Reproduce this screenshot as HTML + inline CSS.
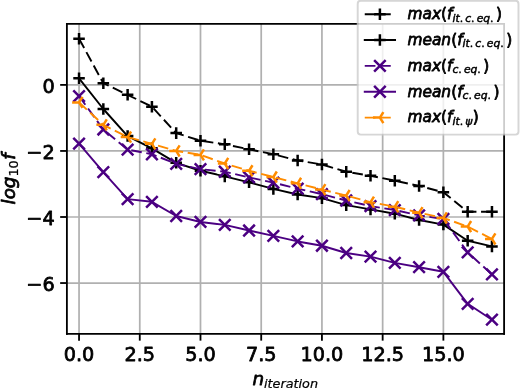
<!DOCTYPE html>
<html><head><meta charset="utf-8"><style>html,body{margin:0;padding:0;background:#fff;overflow:hidden}svg{display:block;}</style></head><body>
<svg width="520" height="388" viewBox="0 0 270.12987 201.558442" version="1.1"><filter id="soft" x="0" y="0" width="1" height="1"><feGaussianBlur stdDeviation="0.280"/></filter><g filter="url(#soft)">
 
 <defs>
  <style type="text/css">*{stroke-linejoin: round; stroke-linecap: butt} text{stroke:#000;stroke-width:0.400;stroke-linejoin:round} tspan[style*="font-size: 6.65px"]{stroke-width:0.120} tspan[style*="font-size: 5.6px"]{stroke-width:0.25}</style>
 </defs>
 <g id="figure_1">
  <g id="patch_1">
   <path d="M 0 201.558442 
L 270.12987 201.558442 
L 270.12987 0 
L 0 0 
z
" style="fill: #ffffff"/>
  </g>
  <g id="axes_1">
   <g id="patch_2">
    <path d="M 34.753247 173.454545 
L 261.87013 173.454545 
L 261.87013 12.363636 
L 34.753247 12.363636 
z
" style="fill: #ffffff"/>
   </g>
   <g id="matplotlib.axis_1">
    <g id="xtick_1">
     <g id="line2d_1">
      <path d="M 41.062049 173.454545 
L 41.062049 12.363636 
" clip-path="url(#pce81acad03)" style="fill: none; stroke: #b0b0b0; stroke-width: 0.9; stroke-linecap: square"/>
     </g>
     <g id="line2d_2">
      <defs>
       <path id="m1c7f53c458" d="M 0 0 
L 0 3.5 
" style="stroke: #000000; stroke-width: 0.95"/>
      </defs>
      <g>
       <use href="#m1c7f53c458" x="41.062049" y="173.454545" style="stroke: #000000; stroke-width: 0.95"/>
      </g>
     </g>
     <g id="text_1">
      <text style="font-size: 10px; font-family: 'DejaVu Sans', 'Liberation Sans', sans-serif; text-anchor: middle" x="41.062049" y="187.502983" transform="rotate(-0 41.062049 187.502983)">0.0</text>
     </g>
    </g>
    <g id="xtick_2">
     <g id="line2d_3">
      <path d="M 72.606061 173.454545 
L 72.606061 12.363636 
" clip-path="url(#pce81acad03)" style="fill: none; stroke: #b0b0b0; stroke-width: 0.9; stroke-linecap: square"/>
     </g>
     <g id="line2d_4">
      <g>
       <use href="#m1c7f53c458" x="72.606061" y="173.454545" style="stroke: #000000; stroke-width: 0.95"/>
      </g>
     </g>
     <g id="text_2">
      <text style="font-size: 10px; font-family: 'DejaVu Sans', 'Liberation Sans', sans-serif; text-anchor: middle" x="72.606061" y="187.502983" transform="rotate(-0 72.606061 187.502983)">2.5</text>
     </g>
    </g>
    <g id="xtick_3">
     <g id="line2d_5">
      <path d="M 104.150072 173.454545 
L 104.150072 12.363636 
" clip-path="url(#pce81acad03)" style="fill: none; stroke: #b0b0b0; stroke-width: 0.9; stroke-linecap: square"/>
     </g>
     <g id="line2d_6">
      <g>
       <use href="#m1c7f53c458" x="104.150072" y="173.454545" style="stroke: #000000; stroke-width: 0.95"/>
      </g>
     </g>
     <g id="text_3">
      <text style="font-size: 10px; font-family: 'DejaVu Sans', 'Liberation Sans', sans-serif; text-anchor: middle" x="104.150072" y="187.502983" transform="rotate(-0 104.150072 187.502983)">5.0</text>
     </g>
    </g>
    <g id="xtick_4">
     <g id="line2d_7">
      <path d="M 135.694084 173.454545 
L 135.694084 12.363636 
" clip-path="url(#pce81acad03)" style="fill: none; stroke: #b0b0b0; stroke-width: 0.9; stroke-linecap: square"/>
     </g>
     <g id="line2d_8">
      <g>
       <use href="#m1c7f53c458" x="135.694084" y="173.454545" style="stroke: #000000; stroke-width: 0.95"/>
      </g>
     </g>
     <g id="text_4">
      <text style="font-size: 10px; font-family: 'DejaVu Sans', 'Liberation Sans', sans-serif; text-anchor: middle" x="135.694084" y="187.502983" transform="rotate(-0 135.694084 187.502983)">7.5</text>
     </g>
    </g>
    <g id="xtick_5">
     <g id="line2d_9">
      <path d="M 167.238095 173.454545 
L 167.238095 12.363636 
" clip-path="url(#pce81acad03)" style="fill: none; stroke: #b0b0b0; stroke-width: 0.9; stroke-linecap: square"/>
     </g>
     <g id="line2d_10">
      <g>
       <use href="#m1c7f53c458" x="167.238095" y="173.454545" style="stroke: #000000; stroke-width: 0.95"/>
      </g>
     </g>
     <g id="text_5">
      <text style="font-size: 10px; font-family: 'DejaVu Sans', 'Liberation Sans', sans-serif; text-anchor: middle" x="167.238095" y="187.502983" transform="rotate(-0 167.238095 187.502983)">10.0</text>
     </g>
    </g>
    <g id="xtick_6">
     <g id="line2d_11">
      <path d="M 198.782107 173.454545 
L 198.782107 12.363636 
" clip-path="url(#pce81acad03)" style="fill: none; stroke: #b0b0b0; stroke-width: 0.9; stroke-linecap: square"/>
     </g>
     <g id="line2d_12">
      <g>
       <use href="#m1c7f53c458" x="198.782107" y="173.454545" style="stroke: #000000; stroke-width: 0.95"/>
      </g>
     </g>
     <g id="text_6">
      <text style="font-size: 10px; font-family: 'DejaVu Sans', 'Liberation Sans', sans-serif; text-anchor: middle" x="198.782107" y="187.502983" transform="rotate(-0 198.782107 187.502983)">12.5</text>
     </g>
    </g>
    <g id="xtick_7">
     <g id="line2d_13">
      <path d="M 230.326118 173.454545 
L 230.326118 12.363636 
" clip-path="url(#pce81acad03)" style="fill: none; stroke: #b0b0b0; stroke-width: 0.9; stroke-linecap: square"/>
     </g>
     <g id="line2d_14">
      <g>
       <use href="#m1c7f53c458" x="230.326118" y="173.454545" style="stroke: #000000; stroke-width: 0.95"/>
      </g>
     </g>
     <g id="text_7">
      <text style="font-size: 10px; font-family: 'DejaVu Sans', 'Liberation Sans', sans-serif; text-anchor: middle" x="230.326118" y="187.502983" transform="rotate(-0 230.326118 187.502983)">15.0</text>
     </g>
    </g>
    <g id="text_8">
     <g transform="translate(131.116688 200.401186)">
      <text>
       <tspan x="0" y="-0.40625" style="font-style: oblique; font-size: 9.5px; font-family: 'DejaVu Sans', 'Liberation Sans', sans-serif">n</tspan>
       <tspan x="6.020996" y="1.234375" style="font-style: oblique; font-size: 6.65px; font-family: 'DejaVu Sans', 'Liberation Sans', sans-serif">i</tspan>
       <tspan x="7.868579" y="1.234375" style="font-style: oblique; font-size: 6.65px; font-family: 'DejaVu Sans', 'Liberation Sans', sans-serif">t</tspan>
       <tspan x="10.475977" y="1.234375" style="font-style: oblique; font-size: 6.65px; font-family: 'DejaVu Sans', 'Liberation Sans', sans-serif">e</tspan>
       <tspan x="14.567285" y="1.234375" style="font-style: oblique; font-size: 6.65px; font-family: 'DejaVu Sans', 'Liberation Sans', sans-serif">r</tspan>
       <tspan x="17.301318" y="1.234375" style="font-style: oblique; font-size: 6.65px; font-family: 'DejaVu Sans', 'Liberation Sans', sans-serif">a</tspan>
       <tspan x="21.376392" y="1.234375" style="font-style: oblique; font-size: 6.65px; font-family: 'DejaVu Sans', 'Liberation Sans', sans-serif">t</tspan>
       <tspan x="23.983789" y="1.234375" style="font-style: oblique; font-size: 6.65px; font-family: 'DejaVu Sans', 'Liberation Sans', sans-serif">i</tspan>
       <tspan x="25.831372" y="1.234375" style="font-style: oblique; font-size: 6.65px; font-family: 'DejaVu Sans', 'Liberation Sans', sans-serif">o</tspan>
       <tspan x="29.899951" y="1.234375" style="font-style: oblique; font-size: 6.65px; font-family: 'DejaVu Sans', 'Liberation Sans', sans-serif">n</tspan>
      </text>
     </g>
    </g>
   </g>
   <g id="matplotlib.axis_2">
    <g id="ytick_1">
     <g id="line2d_15">
      <path d="M 34.753247 147.03495 
L 261.87013 147.03495 
" clip-path="url(#pce81acad03)" style="fill: none; stroke: #b0b0b0; stroke-width: 0.9; stroke-linecap: square"/>
     </g>
     <g id="line2d_16">
      <defs>
       <path id="m90748ac164" d="M 0 0 
L -3.5 0 
" style="stroke: #000000; stroke-width: 0.95"/>
      </defs>
      <g>
       <use href="#m90748ac164" x="34.753247" y="147.03495" style="stroke: #000000; stroke-width: 0.95"/>
      </g>
     </g>
     <g id="text_9">
      <text style="font-size: 10px; font-family: 'DejaVu Sans', 'Liberation Sans', sans-serif; text-anchor: end" x="28.403247" y="151.094169" transform="rotate(-0 28.403247 151.094169)">−6</text>
     </g>
    </g>
    <g id="ytick_2">
     <g id="line2d_17">
      <path d="M 34.753247 112.723787 
L 261.87013 112.723787 
" clip-path="url(#pce81acad03)" style="fill: none; stroke: #b0b0b0; stroke-width: 0.9; stroke-linecap: square"/>
     </g>
     <g id="line2d_18">
      <g>
       <use href="#m90748ac164" x="34.753247" y="112.723787" style="stroke: #000000; stroke-width: 0.95"/>
      </g>
     </g>
     <g id="text_10">
      <text style="font-size: 10px; font-family: 'DejaVu Sans', 'Liberation Sans', sans-serif; text-anchor: end" x="28.403247" y="116.783006" transform="rotate(-0 28.403247 116.783006)">−4</text>
     </g>
    </g>
    <g id="ytick_3">
     <g id="line2d_19">
      <path d="M 34.753247 78.412625 
L 261.87013 78.412625 
" clip-path="url(#pce81acad03)" style="fill: none; stroke: #b0b0b0; stroke-width: 0.9; stroke-linecap: square"/>
     </g>
     <g id="line2d_20">
      <g>
       <use href="#m90748ac164" x="34.753247" y="78.412625" style="stroke: #000000; stroke-width: 0.95"/>
      </g>
     </g>
     <g id="text_11">
      <text style="font-size: 10px; font-family: 'DejaVu Sans', 'Liberation Sans', sans-serif; text-anchor: end" x="28.403247" y="82.471843" transform="rotate(-0 28.403247 82.471843)">−2</text>
     </g>
    </g>
    <g id="ytick_4">
     <g id="line2d_21">
      <path d="M 34.753247 44.101462 
L 261.87013 44.101462 
" clip-path="url(#pce81acad03)" style="fill: none; stroke: #b0b0b0; stroke-width: 0.9; stroke-linecap: square"/>
     </g>
     <g id="line2d_22">
      <g>
       <use href="#m90748ac164" x="34.753247" y="44.101462" style="stroke: #000000; stroke-width: 0.95"/>
      </g>
     </g>
     <g id="text_12">
      <text style="font-size: 10px; font-family: 'DejaVu Sans', 'Liberation Sans', sans-serif; text-anchor: end" x="28.403247" y="48.160681" transform="rotate(-0 28.403247 48.160681)">0</text>
     </g>
    </g>
    <g id="text_13">
     <g transform="translate(8.366059 106.209091) rotate(-90)">
      <text>
       <tspan x="0" y="-0.40625" style="font-style: oblique; font-size: 9.5px; font-family: 'DejaVu Sans', 'Liberation Sans', sans-serif">l</tspan>
       <tspan x="2.639404" y="-0.40625" style="font-style: oblique; font-size: 9.5px; font-family: 'DejaVu Sans', 'Liberation Sans', sans-serif">o</tspan>
       <tspan x="8.45166" y="-0.40625" style="font-style: oblique; font-size: 9.5px; font-family: 'DejaVu Sans', 'Liberation Sans', sans-serif">g</tspan>
       <tspan x="23.217236" y="-0.40625" style="font-style: oblique; font-size: 9.5px; font-family: 'DejaVu Sans', 'Liberation Sans', sans-serif">f</tspan>
       <tspan x="14.481934" y="1.234375" style="font-size: 6.65px; font-family: 'DejaVu Sans', 'Liberation Sans', sans-serif">1</tspan>
       <tspan x="18.712866" y="1.234375" style="font-size: 6.65px; font-family: 'DejaVu Sans', 'Liberation Sans', sans-serif">0</tspan>
      </text>
     </g>
    </g>
   </g>
   <g id="line2d_23">
    <path d="M 41.062049 20.083648 
L 53.679654 43.243683 
L 66.297258 49.248136 
L 78.914863 55.424146 
L 91.532468 69.148611 
L 104.150072 73.094394 
L 116.767677 74.981508 
L 129.385281 77.554846 
L 142.002886 80.128183 
L 154.620491 83.387743 
L 167.238095 85.446413 
L 179.8557 89.220641 
L 192.473304 91.279311 
L 205.090909 93.852648 
L 217.708514 96.597541 
L 230.326118 99.857101 
L 242.943723 109.978894 
L 255.561328 109.978894 
" clip-path="url(#pce81acad03)" style="fill: none; stroke-dasharray: 5.55,2.4; stroke-dashoffset: 0; stroke: #000000"/>
    <defs>
     <path id="ma10e8e3526" d="M -3 0 
L 3 0 
M 0 3 
L 0 -3 
" style="stroke: #000000; stroke-width: 1.3"/>
    </defs>
    <g clip-path="url(#pce81acad03)">
     <use href="#ma10e8e3526" x="41.062049" y="20.083648" style="stroke: #000000; stroke-width: 1.3"/>
     <use href="#ma10e8e3526" x="53.679654" y="43.243683" style="stroke: #000000; stroke-width: 1.3"/>
     <use href="#ma10e8e3526" x="66.297258" y="49.248136" style="stroke: #000000; stroke-width: 1.3"/>
     <use href="#ma10e8e3526" x="78.914863" y="55.424146" style="stroke: #000000; stroke-width: 1.3"/>
     <use href="#ma10e8e3526" x="91.532468" y="69.148611" style="stroke: #000000; stroke-width: 1.3"/>
     <use href="#ma10e8e3526" x="104.150072" y="73.094394" style="stroke: #000000; stroke-width: 1.3"/>
     <use href="#ma10e8e3526" x="116.767677" y="74.981508" style="stroke: #000000; stroke-width: 1.3"/>
     <use href="#ma10e8e3526" x="129.385281" y="77.554846" style="stroke: #000000; stroke-width: 1.3"/>
     <use href="#ma10e8e3526" x="142.002886" y="80.128183" style="stroke: #000000; stroke-width: 1.3"/>
     <use href="#ma10e8e3526" x="154.620491" y="83.387743" style="stroke: #000000; stroke-width: 1.3"/>
     <use href="#ma10e8e3526" x="167.238095" y="85.446413" style="stroke: #000000; stroke-width: 1.3"/>
     <use href="#ma10e8e3526" x="179.8557" y="89.220641" style="stroke: #000000; stroke-width: 1.3"/>
     <use href="#ma10e8e3526" x="192.473304" y="91.279311" style="stroke: #000000; stroke-width: 1.3"/>
     <use href="#ma10e8e3526" x="205.090909" y="93.852648" style="stroke: #000000; stroke-width: 1.3"/>
     <use href="#ma10e8e3526" x="217.708514" y="96.597541" style="stroke: #000000; stroke-width: 1.3"/>
     <use href="#ma10e8e3526" x="230.326118" y="99.857101" style="stroke: #000000; stroke-width: 1.3"/>
     <use href="#ma10e8e3526" x="242.943723" y="109.978894" style="stroke: #000000; stroke-width: 1.3"/>
     <use href="#ma10e8e3526" x="255.561328" y="109.978894" style="stroke: #000000; stroke-width: 1.3"/>
    </g>
   </g>
   <g id="line2d_24">
    <path d="M 41.062049 40.670346 
L 53.679654 56.625036 
L 66.297258 70.692613 
L 78.914863 77.040178 
L 91.532468 84.588634 
L 104.150072 88.705973 
L 116.767677 91.622422 
L 129.385281 94.710427 
L 142.002886 98.141543 
L 154.620491 101.057992 
L 167.238095 102.945106 
L 179.8557 106.547778 
L 192.473304 108.778004 
L 205.090909 111.008229 
L 217.708514 114.26779 
L 230.326118 116.669571 
L 242.943723 125.075806 
L 255.561328 127.992255 
" clip-path="url(#pce81acad03)" style="fill: none; stroke: #000000; stroke-linecap: square"/>
    <g clip-path="url(#pce81acad03)">
     <use href="#ma10e8e3526" x="41.062049" y="40.670346" style="stroke: #000000; stroke-width: 1.3"/>
     <use href="#ma10e8e3526" x="53.679654" y="56.625036" style="stroke: #000000; stroke-width: 1.3"/>
     <use href="#ma10e8e3526" x="66.297258" y="70.692613" style="stroke: #000000; stroke-width: 1.3"/>
     <use href="#ma10e8e3526" x="78.914863" y="77.040178" style="stroke: #000000; stroke-width: 1.3"/>
     <use href="#ma10e8e3526" x="91.532468" y="84.588634" style="stroke: #000000; stroke-width: 1.3"/>
     <use href="#ma10e8e3526" x="104.150072" y="88.705973" style="stroke: #000000; stroke-width: 1.3"/>
     <use href="#ma10e8e3526" x="116.767677" y="91.622422" style="stroke: #000000; stroke-width: 1.3"/>
     <use href="#ma10e8e3526" x="129.385281" y="94.710427" style="stroke: #000000; stroke-width: 1.3"/>
     <use href="#ma10e8e3526" x="142.002886" y="98.141543" style="stroke: #000000; stroke-width: 1.3"/>
     <use href="#ma10e8e3526" x="154.620491" y="101.057992" style="stroke: #000000; stroke-width: 1.3"/>
     <use href="#ma10e8e3526" x="167.238095" y="102.945106" style="stroke: #000000; stroke-width: 1.3"/>
     <use href="#ma10e8e3526" x="179.8557" y="106.547778" style="stroke: #000000; stroke-width: 1.3"/>
     <use href="#ma10e8e3526" x="192.473304" y="108.778004" style="stroke: #000000; stroke-width: 1.3"/>
     <use href="#ma10e8e3526" x="205.090909" y="111.008229" style="stroke: #000000; stroke-width: 1.3"/>
     <use href="#ma10e8e3526" x="217.708514" y="114.26779" style="stroke: #000000; stroke-width: 1.3"/>
     <use href="#ma10e8e3526" x="230.326118" y="116.669571" style="stroke: #000000; stroke-width: 1.3"/>
     <use href="#ma10e8e3526" x="242.943723" y="125.075806" style="stroke: #000000; stroke-width: 1.3"/>
     <use href="#ma10e8e3526" x="255.561328" y="127.992255" style="stroke: #000000; stroke-width: 1.3"/>
    </g>
   </g>
   <g id="line2d_25">
    <path d="M 41.062049 49.93436 
L 53.679654 67.261497 
L 66.297258 77.726401 
L 78.914863 80.128183 
L 91.532468 85.103301 
L 104.150072 87.848194 
L 116.767677 89.220641 
L 129.385281 92.13709 
L 142.002886 94.881983 
L 154.620491 97.969987 
L 167.238095 100.886436 
L 179.8557 104.145997 
L 192.473304 107.062446 
L 205.090909 109.121115 
L 217.708514 111.866008 
L 230.326118 113.753122 
L 242.943723 131.080259 
L 255.561328 142.574499 
" clip-path="url(#pce81acad03)" style="fill: none; stroke-dasharray: 5.55,2.4; stroke-dashoffset: 0; stroke: #4b0082"/>
    <defs>
     <path id="ma31a011102" d="M -3 3 
L 3 -3 
M -3 -3 
L 3 3 
" style="stroke: #4b0082; stroke-width: 1.3"/>
    </defs>
    <g clip-path="url(#pce81acad03)">
     <use href="#ma31a011102" x="41.062049" y="49.93436" style="fill: #4b0082; stroke: #4b0082; stroke-width: 1.3"/>
     <use href="#ma31a011102" x="53.679654" y="67.261497" style="fill: #4b0082; stroke: #4b0082; stroke-width: 1.3"/>
     <use href="#ma31a011102" x="66.297258" y="77.726401" style="fill: #4b0082; stroke: #4b0082; stroke-width: 1.3"/>
     <use href="#ma31a011102" x="78.914863" y="80.128183" style="fill: #4b0082; stroke: #4b0082; stroke-width: 1.3"/>
     <use href="#ma31a011102" x="91.532468" y="85.103301" style="fill: #4b0082; stroke: #4b0082; stroke-width: 1.3"/>
     <use href="#ma31a011102" x="104.150072" y="87.848194" style="fill: #4b0082; stroke: #4b0082; stroke-width: 1.3"/>
     <use href="#ma31a011102" x="116.767677" y="89.220641" style="fill: #4b0082; stroke: #4b0082; stroke-width: 1.3"/>
     <use href="#ma31a011102" x="129.385281" y="92.13709" style="fill: #4b0082; stroke: #4b0082; stroke-width: 1.3"/>
     <use href="#ma31a011102" x="142.002886" y="94.881983" style="fill: #4b0082; stroke: #4b0082; stroke-width: 1.3"/>
     <use href="#ma31a011102" x="154.620491" y="97.969987" style="fill: #4b0082; stroke: #4b0082; stroke-width: 1.3"/>
     <use href="#ma31a011102" x="167.238095" y="100.886436" style="fill: #4b0082; stroke: #4b0082; stroke-width: 1.3"/>
     <use href="#ma31a011102" x="179.8557" y="104.145997" style="fill: #4b0082; stroke: #4b0082; stroke-width: 1.3"/>
     <use href="#ma31a011102" x="192.473304" y="107.062446" style="fill: #4b0082; stroke: #4b0082; stroke-width: 1.3"/>
     <use href="#ma31a011102" x="205.090909" y="109.121115" style="fill: #4b0082; stroke: #4b0082; stroke-width: 1.3"/>
     <use href="#ma31a011102" x="217.708514" y="111.866008" style="fill: #4b0082; stroke: #4b0082; stroke-width: 1.3"/>
     <use href="#ma31a011102" x="230.326118" y="113.753122" style="fill: #4b0082; stroke: #4b0082; stroke-width: 1.3"/>
     <use href="#ma31a011102" x="242.943723" y="131.080259" style="fill: #4b0082; stroke: #4b0082; stroke-width: 1.3"/>
     <use href="#ma31a011102" x="255.561328" y="142.574499" style="fill: #4b0082; stroke: #4b0082; stroke-width: 1.3"/>
    </g>
   </g>
   <g id="line2d_26">
    <path d="M 41.062049 74.638397 
L 53.679654 89.392197 
L 66.297258 103.459773 
L 78.914863 104.83222 
L 91.532468 112.20912 
L 104.150072 115.297125 
L 116.767677 116.841127 
L 129.385281 119.757576 
L 142.002886 122.502469 
L 154.620491 125.418918 
L 167.238095 127.649143 
L 179.8557 131.423371 
L 192.473304 133.310485 
L 205.090909 136.570046 
L 217.708514 138.800271 
L 230.326118 141.202052 
L 242.943723 157.842966 
L 255.561328 166.077645 
" clip-path="url(#pce81acad03)" style="fill: none; stroke: #4b0082; stroke-linecap: square"/>
    <g clip-path="url(#pce81acad03)">
     <use href="#ma31a011102" x="41.062049" y="74.638397" style="fill: #4b0082; stroke: #4b0082; stroke-width: 1.3"/>
     <use href="#ma31a011102" x="53.679654" y="89.392197" style="fill: #4b0082; stroke: #4b0082; stroke-width: 1.3"/>
     <use href="#ma31a011102" x="66.297258" y="103.459773" style="fill: #4b0082; stroke: #4b0082; stroke-width: 1.3"/>
     <use href="#ma31a011102" x="78.914863" y="104.83222" style="fill: #4b0082; stroke: #4b0082; stroke-width: 1.3"/>
     <use href="#ma31a011102" x="91.532468" y="112.20912" style="fill: #4b0082; stroke: #4b0082; stroke-width: 1.3"/>
     <use href="#ma31a011102" x="104.150072" y="115.297125" style="fill: #4b0082; stroke: #4b0082; stroke-width: 1.3"/>
     <use href="#ma31a011102" x="116.767677" y="116.841127" style="fill: #4b0082; stroke: #4b0082; stroke-width: 1.3"/>
     <use href="#ma31a011102" x="129.385281" y="119.757576" style="fill: #4b0082; stroke: #4b0082; stroke-width: 1.3"/>
     <use href="#ma31a011102" x="142.002886" y="122.502469" style="fill: #4b0082; stroke: #4b0082; stroke-width: 1.3"/>
     <use href="#ma31a011102" x="154.620491" y="125.418918" style="fill: #4b0082; stroke: #4b0082; stroke-width: 1.3"/>
     <use href="#ma31a011102" x="167.238095" y="127.649143" style="fill: #4b0082; stroke: #4b0082; stroke-width: 1.3"/>
     <use href="#ma31a011102" x="179.8557" y="131.423371" style="fill: #4b0082; stroke: #4b0082; stroke-width: 1.3"/>
     <use href="#ma31a011102" x="192.473304" y="133.310485" style="fill: #4b0082; stroke: #4b0082; stroke-width: 1.3"/>
     <use href="#ma31a011102" x="205.090909" y="136.570046" style="fill: #4b0082; stroke: #4b0082; stroke-width: 1.3"/>
     <use href="#ma31a011102" x="217.708514" y="138.800271" style="fill: #4b0082; stroke: #4b0082; stroke-width: 1.3"/>
     <use href="#ma31a011102" x="230.326118" y="141.202052" style="fill: #4b0082; stroke: #4b0082; stroke-width: 1.3"/>
     <use href="#ma31a011102" x="242.943723" y="157.842966" style="fill: #4b0082; stroke: #4b0082; stroke-width: 1.3"/>
     <use href="#ma31a011102" x="255.561328" y="166.077645" style="fill: #4b0082; stroke: #4b0082; stroke-width: 1.3"/>
    </g>
   </g>
   <g id="line2d_27">
    <path d="M 41.062049 53.19392 
L 53.679654 64.859715 
L 66.297258 71.20728 
L 78.914863 74.724175 
L 91.532468 78.412625 
L 104.150072 80.471294 
L 116.767677 84.931746 
L 129.385281 88.705973 
L 142.002886 91.965534 
L 154.620491 95.225094 
L 167.238095 98.484655 
L 179.8557 101.57266 
L 192.473304 105.003776 
L 205.090909 107.405557 
L 217.708514 110.493562 
L 230.326118 113.238455 
L 242.943723 117.698906 
L 255.561328 124.132249 
" clip-path="url(#pce81acad03)" style="fill: none; stroke-dasharray: 5.55,2.4; stroke-dashoffset: 0; stroke: #ff8c00"/>
    <defs>
     <path id="mf03f21ee04" d="M 0 0 
L -3.6 -0 
M 0 0 
L 1.8 2.88 
M 0 0 
L 1.8 -2.88 
" style="stroke: #ff8c00; stroke-width: 1.3"/>
    </defs>
    <g clip-path="url(#pce81acad03)">
     <use href="#mf03f21ee04" x="41.062049" y="53.19392" style="fill: #ff8c00; stroke: #ff8c00; stroke-width: 1.3"/>
     <use href="#mf03f21ee04" x="53.679654" y="64.859715" style="fill: #ff8c00; stroke: #ff8c00; stroke-width: 1.3"/>
     <use href="#mf03f21ee04" x="66.297258" y="71.20728" style="fill: #ff8c00; stroke: #ff8c00; stroke-width: 1.3"/>
     <use href="#mf03f21ee04" x="78.914863" y="74.724175" style="fill: #ff8c00; stroke: #ff8c00; stroke-width: 1.3"/>
     <use href="#mf03f21ee04" x="91.532468" y="78.412625" style="fill: #ff8c00; stroke: #ff8c00; stroke-width: 1.3"/>
     <use href="#mf03f21ee04" x="104.150072" y="80.471294" style="fill: #ff8c00; stroke: #ff8c00; stroke-width: 1.3"/>
     <use href="#mf03f21ee04" x="116.767677" y="84.931746" style="fill: #ff8c00; stroke: #ff8c00; stroke-width: 1.3"/>
     <use href="#mf03f21ee04" x="129.385281" y="88.705973" style="fill: #ff8c00; stroke: #ff8c00; stroke-width: 1.3"/>
     <use href="#mf03f21ee04" x="142.002886" y="91.965534" style="fill: #ff8c00; stroke: #ff8c00; stroke-width: 1.3"/>
     <use href="#mf03f21ee04" x="154.620491" y="95.225094" style="fill: #ff8c00; stroke: #ff8c00; stroke-width: 1.3"/>
     <use href="#mf03f21ee04" x="167.238095" y="98.484655" style="fill: #ff8c00; stroke: #ff8c00; stroke-width: 1.3"/>
     <use href="#mf03f21ee04" x="179.8557" y="101.57266" style="fill: #ff8c00; stroke: #ff8c00; stroke-width: 1.3"/>
     <use href="#mf03f21ee04" x="192.473304" y="105.003776" style="fill: #ff8c00; stroke: #ff8c00; stroke-width: 1.3"/>
     <use href="#mf03f21ee04" x="205.090909" y="107.405557" style="fill: #ff8c00; stroke: #ff8c00; stroke-width: 1.3"/>
     <use href="#mf03f21ee04" x="217.708514" y="110.493562" style="fill: #ff8c00; stroke: #ff8c00; stroke-width: 1.3"/>
     <use href="#mf03f21ee04" x="230.326118" y="113.238455" style="fill: #ff8c00; stroke: #ff8c00; stroke-width: 1.3"/>
     <use href="#mf03f21ee04" x="242.943723" y="117.698906" style="fill: #ff8c00; stroke: #ff8c00; stroke-width: 1.3"/>
     <use href="#mf03f21ee04" x="255.561328" y="124.132249" style="fill: #ff8c00; stroke: #ff8c00; stroke-width: 1.3"/>
    </g>
   </g>
   <g id="patch_3">
    <path d="M 34.753247 173.454545 
L 34.753247 12.363636 
" style="fill: none; stroke: #000000; stroke-width: 0.95; stroke-linejoin: miter; stroke-linecap: square"/>
   </g>
   <g id="patch_4">
    <path d="M 261.87013 173.454545 
L 261.87013 12.363636 
" style="fill: none; stroke: #000000; stroke-width: 0.95; stroke-linejoin: miter; stroke-linecap: square"/>
   </g>
   <g id="patch_5">
    <path d="M 34.753247 173.454545 
L 261.87013 173.454545 
" style="fill: none; stroke: #000000; stroke-width: 0.95; stroke-linejoin: miter; stroke-linecap: square"/>
   </g>
   <g id="patch_6">
    <path d="M 34.753247 12.363636 
L 261.87013 12.363636 
" style="fill: none; stroke: #000000; stroke-width: 0.95; stroke-linejoin: miter; stroke-linecap: square"/>
   </g>
   <g id="legend_1">
    <g id="patch_7">
     <path d="M 187.4182 69.9221 L 267.7506 69.9221 Q 269.3506 69.9221 269.3506 68.3221 L 269.3506 2.0156 Q 269.3506 0.4156 267.7506 0.4156 L 187.4182 0.4156 Q 185.8182 0.4156 185.8182 2.0156 L 185.8182 68.3221 Q 185.8182 69.9221 187.4182 69.9221 z" style="fill: #ffffff; opacity: 0.8; stroke: #cccccc; stroke-linejoin: miter"/>
    </g>
    <g id="line2d_28">
     <path d="M 189.4805 7.3766 L 197.3506 7.3766 L 205.2208 7.3766" style="fill: none; stroke-dasharray: 5.55,2.4; stroke-dashoffset: 0; stroke: #000000"/>
     <g>
      <use href="#ma10e8e3526" x="197.3506" y="7.3766" style="stroke: #000000; stroke-width: 1.3"/>
     </g>
    </g>
    <g id="text_14">
     <g transform="translate(211.670649 10.7966)">
      <text>
       <tspan x="0" y="-0.921875" style="font-style: oblique; font-size: 8px; font-family: 'DejaVu Sans', 'Liberation Sans', sans-serif">m</tspan>
       <tspan x="7.792969" y="-0.921875" style="font-style: oblique; font-size: 8px; font-family: 'DejaVu Sans', 'Liberation Sans', sans-serif">a</tspan>
       <tspan x="12.695312" y="-0.921875" style="font-style: oblique; font-size: 8px; font-family: 'DejaVu Sans', 'Liberation Sans', sans-serif">x</tspan>
       <tspan x="20.550781" y="-0.921875" style="font-style: oblique; font-size: 8px; font-family: 'DejaVu Sans', 'Liberation Sans', sans-serif">f</tspan>
       <tspan x="17.429688" y="-0.921875" style="font-size: 8px; font-family: 'DejaVu Sans', 'Liberation Sans', sans-serif">(</tspan>
       <tspan x="46.029687" y="-0.921875" style="font-size: 8px; font-family: 'DejaVu Sans', 'Liberation Sans', sans-serif">)</tspan>
       <tspan x="23.367188" y="0.390625" style="font-style: oblique; font-size: 5.6px; font-family: 'DejaVu Sans', 'Liberation Sans', sans-serif">i</tspan>
       <tspan x="24.923047" y="0.390625" style="font-style: oblique; font-size: 5.6px; font-family: 'DejaVu Sans', 'Liberation Sans', sans-serif">t</tspan>
       <tspan x="29.989844" y="0.390625" style="font-style: oblique; font-size: 5.6px; font-family: 'DejaVu Sans', 'Liberation Sans', sans-serif">c</tspan>
       <tspan x="35.939844" y="0.390625" style="font-style: oblique; font-size: 5.6px; font-family: 'DejaVu Sans', 'Liberation Sans', sans-serif">e</tspan>
       <tspan x="39.385156" y="0.390625" style="font-style: oblique; font-size: 5.6px; font-family: 'DejaVu Sans', 'Liberation Sans', sans-serif">q</tspan>
       <tspan x="27.11875" y="0.390625" style="font-size: 5.6px; font-family: 'DejaVu Sans', 'Liberation Sans', sans-serif">.</tspan>
       <tspan x="33.06875" y="0.390625" style="font-size: 5.6px; font-family: 'DejaVu Sans', 'Liberation Sans', sans-serif">.</tspan>
       <tspan x="42.939844" y="0.390625" style="font-size: 5.6px; font-family: 'DejaVu Sans', 'Liberation Sans', sans-serif">.</tspan>
      </text>
     </g>
    </g>
    <g id="line2d_29">
     <path d="M 189.4805 20.8052 L 197.3506 20.8052 L 205.2208 20.8052" style="fill: none; stroke: #000000; stroke-linecap: square"/>
     <g>
      <use href="#ma10e8e3526" x="197.3506" y="20.8052" style="stroke: #000000; stroke-width: 1.3"/>
     </g>
    </g>
    <g id="text_15">
     <g transform="translate(211.670649 24.2252)">
      <text>
       <tspan x="0" y="-0.921875" style="font-style: oblique; font-size: 8px; font-family: 'DejaVu Sans', 'Liberation Sans', sans-serif">m</tspan>
       <tspan x="7.792969" y="-0.921875" style="font-style: oblique; font-size: 8px; font-family: 'DejaVu Sans', 'Liberation Sans', sans-serif">e</tspan>
       <tspan x="12.714844" y="-0.921875" style="font-style: oblique; font-size: 8px; font-family: 'DejaVu Sans', 'Liberation Sans', sans-serif">a</tspan>
       <tspan x="17.617188" y="-0.921875" style="font-style: oblique; font-size: 8px; font-family: 'DejaVu Sans', 'Liberation Sans', sans-serif">n</tspan>
       <tspan x="25.808594" y="-0.921875" style="font-style: oblique; font-size: 8px; font-family: 'DejaVu Sans', 'Liberation Sans', sans-serif">f</tspan>
       <tspan x="22.6875" y="-0.921875" style="font-size: 8px; font-family: 'DejaVu Sans', 'Liberation Sans', sans-serif">(</tspan>
       <tspan x="51.2875" y="-0.921875" style="font-size: 8px; font-family: 'DejaVu Sans', 'Liberation Sans', sans-serif">)</tspan>
       <tspan x="28.625" y="0.390625" style="font-style: oblique; font-size: 5.6px; font-family: 'DejaVu Sans', 'Liberation Sans', sans-serif">i</tspan>
       <tspan x="30.180859" y="0.390625" style="font-style: oblique; font-size: 5.6px; font-family: 'DejaVu Sans', 'Liberation Sans', sans-serif">t</tspan>
       <tspan x="35.247656" y="0.390625" style="font-style: oblique; font-size: 5.6px; font-family: 'DejaVu Sans', 'Liberation Sans', sans-serif">c</tspan>
       <tspan x="41.197656" y="0.390625" style="font-style: oblique; font-size: 5.6px; font-family: 'DejaVu Sans', 'Liberation Sans', sans-serif">e</tspan>
       <tspan x="44.642969" y="0.390625" style="font-style: oblique; font-size: 5.6px; font-family: 'DejaVu Sans', 'Liberation Sans', sans-serif">q</tspan>
       <tspan x="32.376563" y="0.390625" style="font-size: 5.6px; font-family: 'DejaVu Sans', 'Liberation Sans', sans-serif">.</tspan>
       <tspan x="38.326563" y="0.390625" style="font-size: 5.6px; font-family: 'DejaVu Sans', 'Liberation Sans', sans-serif">.</tspan>
       <tspan x="48.197656" y="0.390625" style="font-size: 5.6px; font-family: 'DejaVu Sans', 'Liberation Sans', sans-serif">.</tspan>
      </text>
     </g>
    </g>
    <g id="line2d_30">
     <path d="M 189.4805 34.2338 L 197.3506 34.2338 L 205.2208 34.2338" style="fill: none; stroke-dasharray: 5.55,2.4; stroke-dashoffset: 0; stroke: #4b0082"/>
     <g>
      <use href="#ma31a011102" x="197.3506" y="34.2338" style="fill: #4b0082; stroke: #4b0082; stroke-width: 1.3"/>
     </g>
    </g>
    <g id="text_16">
     <g transform="translate(211.670649 37.6538)">
      <text>
       <tspan x="0" y="-0.921875" style="font-style: oblique; font-size: 8px; font-family: 'DejaVu Sans', 'Liberation Sans', sans-serif">m</tspan>
       <tspan x="7.792969" y="-0.921875" style="font-style: oblique; font-size: 8px; font-family: 'DejaVu Sans', 'Liberation Sans', sans-serif">a</tspan>
       <tspan x="12.695312" y="-0.921875" style="font-style: oblique; font-size: 8px; font-family: 'DejaVu Sans', 'Liberation Sans', sans-serif">x</tspan>
       <tspan x="20.550781" y="-0.921875" style="font-style: oblique; font-size: 8px; font-family: 'DejaVu Sans', 'Liberation Sans', sans-serif">f</tspan>
       <tspan x="17.429688" y="-0.921875" style="font-size: 8px; font-family: 'DejaVu Sans', 'Liberation Sans', sans-serif">(</tspan>
       <tspan x="39.407031" y="-0.921875" style="font-size: 8px; font-family: 'DejaVu Sans', 'Liberation Sans', sans-serif">)</tspan>
       <tspan x="23.367188" y="0.390625" style="font-style: oblique; font-size: 5.6px; font-family: 'DejaVu Sans', 'Liberation Sans', sans-serif">c</tspan>
       <tspan x="29.317187" y="0.390625" style="font-style: oblique; font-size: 5.6px; font-family: 'DejaVu Sans', 'Liberation Sans', sans-serif">e</tspan>
       <tspan x="32.7625" y="0.390625" style="font-style: oblique; font-size: 5.6px; font-family: 'DejaVu Sans', 'Liberation Sans', sans-serif">q</tspan>
       <tspan x="26.446094" y="0.390625" style="font-size: 5.6px; font-family: 'DejaVu Sans', 'Liberation Sans', sans-serif">.</tspan>
       <tspan x="36.317188" y="0.390625" style="font-size: 5.6px; font-family: 'DejaVu Sans', 'Liberation Sans', sans-serif">.</tspan>
      </text>
     </g>
    </g>
    <g id="line2d_31">
     <path d="M 189.4805 47.6623 L 197.3506 47.6623 L 205.2208 47.6623" style="fill: none; stroke: #4b0082; stroke-linecap: square"/>
     <g>
      <use href="#ma31a011102" x="197.3506" y="47.6623" style="fill: #4b0082; stroke: #4b0082; stroke-width: 1.3"/>
     </g>
    </g>
    <g id="text_17">
     <g transform="translate(211.670649 51.0823)">
      <text>
       <tspan x="0" y="-0.921875" style="font-style: oblique; font-size: 8px; font-family: 'DejaVu Sans', 'Liberation Sans', sans-serif">m</tspan>
       <tspan x="7.792969" y="-0.921875" style="font-style: oblique; font-size: 8px; font-family: 'DejaVu Sans', 'Liberation Sans', sans-serif">e</tspan>
       <tspan x="12.714844" y="-0.921875" style="font-style: oblique; font-size: 8px; font-family: 'DejaVu Sans', 'Liberation Sans', sans-serif">a</tspan>
       <tspan x="17.617188" y="-0.921875" style="font-style: oblique; font-size: 8px; font-family: 'DejaVu Sans', 'Liberation Sans', sans-serif">n</tspan>
       <tspan x="25.808594" y="-0.921875" style="font-style: oblique; font-size: 8px; font-family: 'DejaVu Sans', 'Liberation Sans', sans-serif">f</tspan>
       <tspan x="22.6875" y="-0.921875" style="font-size: 8px; font-family: 'DejaVu Sans', 'Liberation Sans', sans-serif">(</tspan>
       <tspan x="44.664844" y="-0.921875" style="font-size: 8px; font-family: 'DejaVu Sans', 'Liberation Sans', sans-serif">)</tspan>
       <tspan x="28.625" y="0.390625" style="font-style: oblique; font-size: 5.6px; font-family: 'DejaVu Sans', 'Liberation Sans', sans-serif">c</tspan>
       <tspan x="34.575" y="0.390625" style="font-style: oblique; font-size: 5.6px; font-family: 'DejaVu Sans', 'Liberation Sans', sans-serif">e</tspan>
       <tspan x="38.020313" y="0.390625" style="font-style: oblique; font-size: 5.6px; font-family: 'DejaVu Sans', 'Liberation Sans', sans-serif">q</tspan>
       <tspan x="31.703906" y="0.390625" style="font-size: 5.6px; font-family: 'DejaVu Sans', 'Liberation Sans', sans-serif">.</tspan>
       <tspan x="41.575" y="0.390625" style="font-size: 5.6px; font-family: 'DejaVu Sans', 'Liberation Sans', sans-serif">.</tspan>
      </text>
     </g>
    </g>
    <g id="line2d_32">
     <path d="M 189.4805 61.0909 L 197.3506 61.0909 L 205.2208 61.0909" style="fill: none; stroke-dasharray: 5.55,2.4; stroke-dashoffset: 0; stroke: #ff8c00"/>
     <g>
      <use href="#mf03f21ee04" x="197.3506" y="61.0909" style="fill: #ff8c00; stroke: #ff8c00; stroke-width: 1.3"/>
     </g>
    </g>
    <g id="text_18">
     <g transform="translate(211.670649 64.5109)">
      <text>
       <tspan x="0" y="-0.921875" style="font-style: oblique; font-size: 8px; font-family: 'DejaVu Sans', 'Liberation Sans', sans-serif">m</tspan>
       <tspan x="7.792969" y="-0.921875" style="font-style: oblique; font-size: 8px; font-family: 'DejaVu Sans', 'Liberation Sans', sans-serif">a</tspan>
       <tspan x="12.695312" y="-0.921875" style="font-style: oblique; font-size: 8px; font-family: 'DejaVu Sans', 'Liberation Sans', sans-serif">x</tspan>
       <tspan x="20.550781" y="-0.921875" style="font-style: oblique; font-size: 8px; font-family: 'DejaVu Sans', 'Liberation Sans', sans-serif">f</tspan>
       <tspan x="17.429688" y="-0.921875" style="font-size: 8px; font-family: 'DejaVu Sans', 'Liberation Sans', sans-serif">(</tspan>
       <tspan x="33.902734" y="-0.921875" style="font-size: 8px; font-family: 'DejaVu Sans', 'Liberation Sans', sans-serif">)</tspan>
       <tspan x="23.367188" y="0.390625" style="font-style: oblique; font-size: 5.6px; font-family: 'DejaVu Sans', 'Liberation Sans', sans-serif">i</tspan>
       <tspan x="24.923047" y="0.390625" style="font-style: oblique; font-size: 5.6px; font-family: 'DejaVu Sans', 'Liberation Sans', sans-serif">t</tspan>
       <tspan x="29.989844" y="0.390625" style="font-style: oblique; font-size: 5.6px; font-family: 'DejaVu Sans', 'Liberation Sans', sans-serif">ψ</tspan>
       <tspan x="27.11875" y="0.390625" style="font-size: 5.6px; font-family: 'DejaVu Sans', 'Liberation Sans', sans-serif">.</tspan>
      </text>
     </g>
    </g>
   </g>
  </g>
 </g>
 <defs>
  <clipPath id="pce81acad03">
   <rect x="34.753247" y="12.363636" width="227.116883" height="161.090909"/>
  </clipPath>
 </defs>
</g></svg>

</body></html>
